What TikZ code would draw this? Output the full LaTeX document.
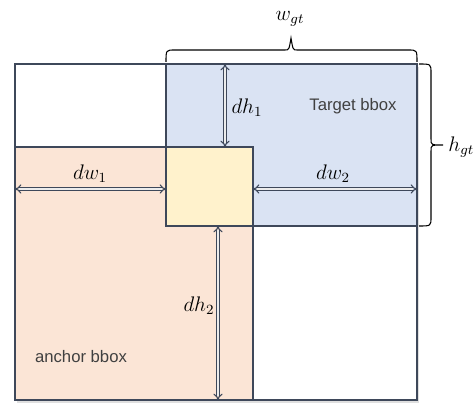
\documentclass[tikz,border=0pt]{standalone}
\usepackage{fontspec}
\newfontfamily\boxfont{Liberation Sans}
\usetikzlibrary{arrows.meta,shadows}

\definecolor{targetblue}{RGB}{218,227,243}
\definecolor{anchorpink}{RGB}{251,229,214}
\definecolor{overlapyellow}{RGB}{255,242,204}
\definecolor{edgegray}{RGB}{62,72,90}

\begin{document}
\begin{tikzpicture}[x=0.02cm,y=-0.02cm,line width=0.8pt,
  box line/.style={draw=edgegray},
  dim arrow/.style={draw=edgegray,double=gray!15,double distance=1.1pt,line width=0.65pt,{Implies}-{Implies}},
  gt brace/.style={draw=black,line width=0.6pt},
  box text/.style={font=\boxfont\fontsize{9.5}{11}\selectfont,text=black!75},
  dim label/.style={font=\fontsize{11.5}{13}\selectfont}]
\useasboundingbox (0,0) rectangle (474,411);

% box corners
\coordinate (outer nw) at (15,64);
\coordinate (outer se) at (417,400);
\coordinate (target nw) at (166,64);
\coordinate (target se) at (417,226);
\coordinate (anchor nw) at (15,147);
\coordinate (anchor se) at (253,400);
\coordinate (overlap nw) at (166,147);
\coordinate (overlap se) at (253,226);

% fills
\fill[white,drop shadow={opacity=0.25,shadow xshift=1pt,shadow yshift=-1.5pt}] (outer nw) rectangle (outer se);
\fill[anchorpink] (anchor nw) rectangle (anchor se);
\fill[targetblue] (target nw) rectangle (target se);
\fill[overlapyellow] (overlap nw) rectangle (overlap se);

% outlines
\draw[box line] (outer nw) rectangle (outer se);
\draw[box line] (anchor nw) rectangle (anchor se);
\draw[box line] (target nw) rectangle (target se);
\draw[box line] (overlap nw) rectangle (overlap se);

% distances
\coordinate (dh1 top) at (225,64);
\coordinate (dh1 bottom) at (225,147);
\coordinate (dw1 left) at (15,189);
\coordinate (dw1 right) at (166,189);
\coordinate (dw2 left) at (253,189);
\coordinate (dw2 right) at (417,189);
\coordinate (dh2 top) at (218,226);
\coordinate (dh2 bottom) at (218,400);
\draw[dim arrow] (dh1 top) -- (dh1 bottom);
\draw[dim arrow] (dw1 left) -- (dw1 right);
\draw[dim arrow] (dw2 left) -- (dw2 right);
\draw[dim arrow] (dh2 top) -- (dh2 bottom);

\node[dim label] (dh1) at (247,108) {$dh_1$};
\node[dim label] (dw1) at (90,174) {$dw_1$};
\node[dim label] (dw2) at (333,174) {$dw_2$};
\node[dim label] (dh2) at (199,306) {$dh_2$};

\node[box text] (target) at (353,106) {Target bbox};
\node[box text] (anchor) at (81,357) {anchor bbox};

% ground truth size
\coordinate (wgt left) at (166,62);
\coordinate (wgt right) at (417,62);
\coordinate (hgt top) at (419,64);
\coordinate (hgt bottom) at (419,226);
\draw[gt brace] (wgt left) .. controls (166,50) .. (175,50) -- (285,50)
  .. controls (289,50) .. (291,38) .. controls (293,50) .. (297,50)
  -- (408,50) .. controls (417,50) .. (417,62);
\draw[gt brace] (hgt top) .. controls (431,64) .. (431,73) -- (431,139)
  .. controls (431,145) .. (443,145) .. controls (431,145) .. (431,151)
  -- (431,217) .. controls (431,226) .. (hgt bottom);
\node[dim label] (wgt) at (290,19) {$w_{gt}$};
\node[dim label,anchor=west,inner sep=1pt] (hgt) at (446,147) {$h_{gt}$};

\end{tikzpicture}
\end{document}
